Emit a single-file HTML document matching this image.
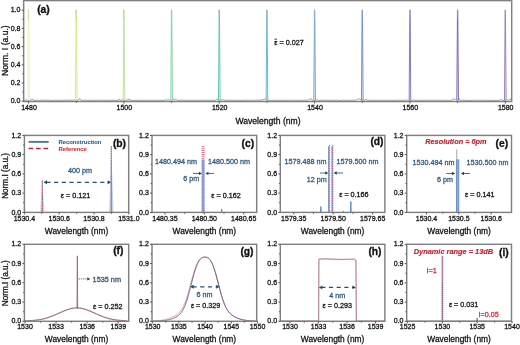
<!DOCTYPE html>
<html><head><meta charset="utf-8"><style>html,body{margin:0;padding:0;background:#fff;}svg{display:block;}</style></head>
<body>
<svg width="520" height="345" viewBox="0 0 520 345" font-family='"Liberation Sans", Arial, sans-serif'>
<rect width="520" height="345" fill="#ffffff"/>
<polyline points="24.15,100.39 25.15,100.34 26.15,99.77 27.15,100.17 28.15,100.38 29.15,100.39 30.15,100.11 31.15,100.17 32.15,98.92 33.15,100.16 34.15,100.20 35.15,100.45 36.15,100.20 37.15,100.26 38.15,100.36 39.15,100.46 40.15,100.16 41.15,100.30 42.15,100.21 43.15,100.15 44.15,100.21 45.15,100.14 46.15,100.33 47.15,100.18 48.15,100.31 49.15,100.13 50.15,100.15 51.15,100.44 52.15,100.42 53.15,100.39 54.15,100.12 55.15,100.31 56.15,100.24 57.15,100.36 58.15,100.29 59.15,100.33 60.15,100.34 61.15,100.26 62.15,100.26 63.15,100.14 64.15,100.22 65.15,100.13 66.15,100.16 67.15,100.11 68.15,100.23 69.15,100.41 70.15,100.16 71.15,100.12 72.15,100.26 73.15,100.40 74.15,99.72 75.15,100.16 76.15,100.11 77.15,100.44 78.15,100.18 79.15,98.91 80.15,98.86 81.15,100.46 82.15,100.35 83.15,100.12 84.15,100.29 85.15,100.11 86.15,100.36 87.15,100.44 88.15,100.25 89.15,100.46 90.15,100.40 91.15,100.32 92.15,100.25 93.15,100.42 94.15,100.46 95.15,100.16 96.15,100.36 97.15,100.12 98.15,100.15 99.15,100.33 100.15,100.30 101.15,100.28 102.15,100.24 103.15,100.26 104.15,100.27 105.15,100.25 106.15,100.13 107.15,100.29 108.15,100.32 109.15,100.21 110.15,100.39 111.15,100.36 112.15,100.12 113.15,100.28 114.15,100.27 115.15,100.47 116.15,100.32 117.15,100.26 118.15,100.46 119.15,98.93 120.15,100.30 121.15,100.34 122.15,99.67 123.15,100.23 124.15,100.12 125.15,100.38 126.15,100.31 127.15,99.47 128.15,100.34 129.15,98.85 130.15,100.46 131.15,100.26 132.15,100.20 133.15,100.36 134.15,100.39 135.15,100.18 136.15,100.39 137.15,100.40 138.15,100.31 139.15,100.22 140.15,100.43 141.15,100.35 142.15,100.35 143.15,100.17 144.15,100.31 145.15,100.16 146.15,100.41 147.15,100.35 148.15,100.24 149.15,100.15 150.15,100.31 151.15,100.39 152.15,100.43 153.15,100.28 154.15,100.40 155.15,100.18 156.15,100.17 157.15,100.41 158.15,100.37 159.15,100.18 160.15,100.24 161.15,100.18 162.15,100.35 163.15,100.42 164.15,100.37 165.15,100.18 166.15,99.35 167.15,100.32 168.15,99.68 169.15,100.13 170.15,100.11 171.15,100.31 172.15,100.13 173.15,98.66 174.15,100.17 175.15,99.36 176.15,99.13 177.15,100.37 178.15,100.46 179.15,100.14 180.15,100.22 181.15,100.14 182.15,100.15 183.15,100.14 184.15,100.26 185.15,100.47 186.15,100.20 187.15,100.41 188.15,100.36 189.15,100.23 190.15,100.28 191.15,100.32 192.15,100.13 193.15,100.25 194.15,100.35 195.15,100.38 196.15,100.16 197.15,100.30 198.15,100.19 199.15,100.34 200.15,100.40 201.15,100.28 202.15,100.17 203.15,100.41 204.15,100.18 205.15,100.14 206.15,100.18 207.15,100.17 208.15,100.47 209.15,100.24 210.15,100.16 211.15,100.45 212.15,100.37 213.15,100.37 214.15,100.28 215.15,100.30 216.15,99.84 217.15,98.64 218.15,100.16 219.15,100.44 220.15,100.29 221.15,99.42 222.15,100.24 223.15,99.44 224.15,100.43 225.15,99.65 226.15,100.41 227.15,100.34 228.15,100.25 229.15,100.19 230.15,100.33 231.15,100.18 232.15,100.25 233.15,100.31 234.15,100.34 235.15,100.29 236.15,100.22 237.15,100.32 238.15,100.22 239.15,100.30 240.15,100.38 241.15,100.28 242.15,100.22 243.15,100.45 244.15,100.32 245.15,100.32 246.15,100.15 247.15,100.13 248.15,100.34 249.15,100.15 250.15,100.18 251.15,100.38 252.15,100.30 253.15,100.43 254.15,100.18 255.15,100.23 256.15,100.15 257.15,100.18 258.15,100.23 259.15,100.20 260.15,100.27 261.15,100.43 262.15,98.96 263.15,99.87 264.15,99.66 265.15,98.56 266.15,100.23 267.15,100.17 268.15,100.13 269.15,100.26 270.15,100.46 271.15,100.29 272.15,100.43 273.15,100.13 274.15,100.45 275.15,100.35 276.15,100.27 277.15,100.17 278.15,100.38 279.15,100.41 280.15,100.38 281.15,100.25 282.15,100.20 283.15,100.33 284.15,100.34 285.15,100.33 286.15,100.34 287.15,100.32 288.15,100.44 289.15,100.29 290.15,100.12 291.15,100.32 292.15,100.20 293.15,100.41 294.15,100.22 295.15,100.20 296.15,100.23 297.15,100.28 298.15,100.30 299.15,100.24 300.15,100.15 301.15,100.42 302.15,100.44 303.15,100.20 304.15,100.14 305.15,100.28 306.15,100.31 307.15,100.21 308.15,100.40 309.15,99.12 310.15,98.96 311.15,98.71 312.15,100.32 313.15,100.26 314.15,100.37 315.15,100.39 316.15,100.46 317.15,99.39 318.15,100.35 319.15,100.42 320.15,100.30 321.15,100.30 322.15,100.17 323.15,100.17 324.15,100.27 325.15,100.30 326.15,100.21 327.15,100.16 328.15,100.33 329.15,100.20 330.15,100.12 331.15,100.30 332.15,100.39 333.15,100.39 334.15,100.21 335.15,100.23 336.15,100.12 337.15,100.16 338.15,100.38 339.15,100.40 340.15,100.38 341.15,100.40 342.15,100.22 343.15,100.16 344.15,100.14 345.15,100.38 346.15,100.16 347.15,100.36 348.15,100.32 349.15,100.21 350.15,100.44 351.15,100.44 352.15,100.17 353.15,100.37 354.15,100.34 355.15,100.26 356.15,100.23 357.15,99.42 358.15,99.04 359.15,98.93 360.15,99.07 361.15,100.43 362.15,100.15 363.15,100.14 364.15,100.44 365.15,100.34 366.15,98.82 367.15,100.23 368.15,100.38 369.15,100.12 370.15,100.23 371.15,100.28 372.15,100.43 373.15,100.29 374.15,100.34 375.15,100.21 376.15,100.23 377.15,100.27 378.15,100.41 379.15,100.24 380.15,100.24 381.15,100.41 382.15,100.15 383.15,100.23 384.15,100.43 385.15,100.13 386.15,100.42 387.15,100.35 388.15,100.21 389.15,100.25 390.15,100.27 391.15,100.24 392.15,100.31 393.15,100.36 394.15,100.41 395.15,100.45 396.15,100.21 397.15,100.20 398.15,100.27 399.15,100.20 400.15,100.34 401.15,100.38 402.15,100.33 403.15,100.15 404.15,100.46 405.15,100.38 406.15,99.34 407.15,100.27 408.15,100.34 409.15,100.43 410.15,100.37 411.15,100.44 412.15,100.43 413.15,99.49 414.15,100.32 415.15,100.18 416.15,100.26 417.15,100.42 418.15,100.33 419.15,100.40 420.15,100.28 421.15,100.27 422.15,100.40 423.15,100.38 424.15,100.19 425.15,100.46 426.15,100.18 427.15,100.15 428.15,100.13 429.15,100.33 430.15,100.27 431.15,100.26 432.15,100.24 433.15,100.12 434.15,100.22 435.15,100.36 436.15,100.16 437.15,100.30 438.15,100.25 439.15,100.21 440.15,100.47 441.15,100.19 442.15,100.23 443.15,100.29 444.15,100.28 445.15,100.30 446.15,100.40 447.15,100.28 448.15,100.46 449.15,100.29 450.15,100.24 451.15,100.31 452.15,100.27 453.15,98.61 454.15,99.30 455.15,99.20 456.15,100.13 457.15,100.35 458.15,100.16 459.15,98.59 460.15,100.25 461.15,100.21 462.15,100.35 463.15,100.13 464.15,100.31 465.15,100.20 466.15,100.30 467.15,100.43 468.15,100.46 469.15,100.44 470.15,100.40 471.15,100.41 472.15,100.29 473.15,100.22 474.15,100.28 475.15,100.32 476.15,100.24 477.15,100.36 478.15,100.30 479.15,100.20 480.15,100.33 481.15,100.41 482.15,100.14 483.15,100.21 484.15,100.34 485.15,100.34 486.15,100.28 487.15,100.25 488.15,100.39 489.15,100.47 490.15,100.40 491.15,100.19 492.15,100.42 493.15,100.30 494.15,100.40 495.15,100.40 496.15,100.41 497.15,100.33 498.15,100.41 499.15,100.46 500.15,99.31 501.15,99.38 502.15,100.32 503.15,100.45 504.15,100.33 505.15,100.46 506.15,100.12 507.15,99.29 508.15,100.41 509.15,99.82 510.15,98.68 511.15,100.30" fill="none" stroke="#8c8c8c" stroke-width="0.8" stroke-linejoin="round" />
<polyline points="27.80,100.29 28.45,10.20 28.75,10.20 29.40,100.29" fill="none" stroke="#f2f2b4" stroke-width="1.0" stroke-linejoin="round" />
<line x1="28.30" y1="8.84" x2="28.30" y2="19.30" stroke="#b8b8c0" stroke-width="0.5" />
<polyline points="75.47,100.29 76.12,10.20 76.42,10.20 77.07,100.29" fill="none" stroke="#dfe68a" stroke-width="1.0" stroke-linejoin="round" />
<line x1="75.97" y1="8.84" x2="75.97" y2="19.30" stroke="#b8b8c0" stroke-width="0.5" />
<polyline points="123.14,100.29 123.79,10.20 124.09,10.20 124.74,100.29" fill="none" stroke="#bfe2a4" stroke-width="1.0" stroke-linejoin="round" />
<line x1="123.64" y1="8.84" x2="123.64" y2="19.30" stroke="#b8b8c0" stroke-width="0.5" />
<polyline points="170.81,100.29 171.46,10.20 171.76,10.20 172.41,100.29" fill="none" stroke="#86d2ac" stroke-width="1.0" stroke-linejoin="round" />
<line x1="171.31" y1="8.84" x2="171.31" y2="19.30" stroke="#b8b8c0" stroke-width="0.5" />
<polyline points="218.48,100.29 219.13,10.20 219.43,10.20 220.08,100.29" fill="none" stroke="#6cc4b2" stroke-width="1.0" stroke-linejoin="round" />
<line x1="218.98" y1="8.84" x2="218.98" y2="19.30" stroke="#b8b8c0" stroke-width="0.5" />
<polyline points="266.15,100.29 266.80,10.20 267.10,10.20 267.75,100.29" fill="none" stroke="#6cbac6" stroke-width="1.0" stroke-linejoin="round" />
<line x1="266.65" y1="8.84" x2="266.65" y2="19.30" stroke="#b8b8c0" stroke-width="0.5" />
<polyline points="313.82,100.29 314.47,10.20 314.77,10.20 315.42,100.29" fill="none" stroke="#74a6cc" stroke-width="1.0" stroke-linejoin="round" />
<line x1="314.32" y1="8.84" x2="314.32" y2="19.30" stroke="#b8b8c0" stroke-width="0.5" />
<polyline points="361.49,100.29 362.14,10.20 362.44,10.20 363.09,100.29" fill="none" stroke="#7290c8" stroke-width="1.0" stroke-linejoin="round" />
<line x1="361.99" y1="8.84" x2="361.99" y2="19.30" stroke="#b8b8c0" stroke-width="0.5" />
<polyline points="409.16,100.29 409.81,10.20 410.11,10.20 410.76,100.29" fill="none" stroke="#7c7ec0" stroke-width="1.0" stroke-linejoin="round" />
<line x1="409.66" y1="8.84" x2="409.66" y2="19.30" stroke="#b8b8c0" stroke-width="0.5" />
<polyline points="456.83,100.29 457.48,10.20 457.78,10.20 458.43,100.29" fill="none" stroke="#7e66b0" stroke-width="1.0" stroke-linejoin="round" />
<line x1="457.33" y1="8.84" x2="457.33" y2="19.30" stroke="#b8b8c0" stroke-width="0.5" />
<polyline points="504.50,100.29 505.15,10.20 505.45,10.20 506.10,100.29" fill="none" stroke="#9a82b8" stroke-width="1.0" stroke-linejoin="round" />
<line x1="505.00" y1="8.84" x2="505.00" y2="19.30" stroke="#b8b8c0" stroke-width="0.5" />
<rect x="23.65" y="0.60" width="488.05" height="100.90" fill="none" stroke="#808080" stroke-width="1.45"/>
<line x1="22.25" y1="92.10" x2="23.65" y2="92.10" stroke="#555" stroke-width="0.9" />
<line x1="22.25" y1="73.90" x2="23.65" y2="73.90" stroke="#555" stroke-width="0.9" />
<line x1="22.25" y1="55.70" x2="23.65" y2="55.70" stroke="#555" stroke-width="0.9" />
<line x1="22.25" y1="37.50" x2="23.65" y2="37.50" stroke="#555" stroke-width="0.9" />
<line x1="22.25" y1="19.30" x2="23.65" y2="19.30" stroke="#555" stroke-width="0.9" />
<line x1="21.65" y1="101.20" x2="23.65" y2="101.20" stroke="#555" stroke-width="1" />
<text x="20.45" y="103.30" font-size="7" text-anchor="end" fill="#111111" stroke="#111111" stroke-width="0.28" font-weight="normal" font-style="normal" >0.0</text>
<line x1="21.65" y1="83.00" x2="23.65" y2="83.00" stroke="#555" stroke-width="1" />
<text x="20.45" y="85.10" font-size="7" text-anchor="end" fill="#111111" stroke="#111111" stroke-width="0.28" font-weight="normal" font-style="normal" >0.2</text>
<line x1="21.65" y1="64.80" x2="23.65" y2="64.80" stroke="#555" stroke-width="1" />
<text x="20.45" y="66.90" font-size="7" text-anchor="end" fill="#111111" stroke="#111111" stroke-width="0.28" font-weight="normal" font-style="normal" >0.4</text>
<line x1="21.65" y1="46.60" x2="23.65" y2="46.60" stroke="#555" stroke-width="1" />
<text x="20.45" y="48.70" font-size="7" text-anchor="end" fill="#111111" stroke="#111111" stroke-width="0.28" font-weight="normal" font-style="normal" >0.6</text>
<line x1="21.65" y1="28.40" x2="23.65" y2="28.40" stroke="#555" stroke-width="1" />
<text x="20.45" y="30.50" font-size="7" text-anchor="end" fill="#111111" stroke="#111111" stroke-width="0.28" font-weight="normal" font-style="normal" >0.8</text>
<line x1="21.65" y1="10.20" x2="23.65" y2="10.20" stroke="#555" stroke-width="1" />
<text x="20.45" y="12.30" font-size="7" text-anchor="end" fill="#111111" stroke="#111111" stroke-width="0.28" font-weight="normal" font-style="normal" >1.0</text>
<line x1="28.60" y1="101.50" x2="28.60" y2="103.50" stroke="#555" stroke-width="1" />
<text x="29.00" y="110.20" font-size="7" text-anchor="middle" fill="#111111" stroke="#111111" stroke-width="0.28" font-weight="normal" font-style="normal" >1480</text>
<line x1="123.94" y1="101.50" x2="123.94" y2="103.50" stroke="#555" stroke-width="1" />
<text x="124.34" y="110.20" font-size="7" text-anchor="middle" fill="#111111" stroke="#111111" stroke-width="0.28" font-weight="normal" font-style="normal" >1500</text>
<line x1="219.28" y1="101.50" x2="219.28" y2="103.50" stroke="#555" stroke-width="1" />
<text x="219.68" y="110.20" font-size="7" text-anchor="middle" fill="#111111" stroke="#111111" stroke-width="0.28" font-weight="normal" font-style="normal" >1520</text>
<line x1="314.62" y1="101.50" x2="314.62" y2="103.50" stroke="#555" stroke-width="1" />
<text x="315.02" y="110.20" font-size="7" text-anchor="middle" fill="#111111" stroke="#111111" stroke-width="0.28" font-weight="normal" font-style="normal" >1540</text>
<line x1="409.96" y1="101.50" x2="409.96" y2="103.50" stroke="#555" stroke-width="1" />
<text x="410.36" y="110.20" font-size="7" text-anchor="middle" fill="#111111" stroke="#111111" stroke-width="0.28" font-weight="normal" font-style="normal" >1560</text>
<line x1="505.30" y1="101.50" x2="505.30" y2="103.50" stroke="#555" stroke-width="1" />
<text x="505.70" y="110.20" font-size="7" text-anchor="middle" fill="#111111" stroke="#111111" stroke-width="0.28" font-weight="normal" font-style="normal" >1580</text>
<line x1="76.27" y1="101.50" x2="76.27" y2="102.90" stroke="#555" stroke-width="0.9" />
<line x1="171.61" y1="101.50" x2="171.61" y2="102.90" stroke="#555" stroke-width="0.9" />
<line x1="266.95" y1="101.50" x2="266.95" y2="102.90" stroke="#555" stroke-width="0.9" />
<line x1="362.29" y1="101.50" x2="362.29" y2="102.90" stroke="#555" stroke-width="0.9" />
<line x1="457.63" y1="101.50" x2="457.63" y2="102.90" stroke="#555" stroke-width="0.9" />
<text x="268.00" y="123.50" font-size="8.6" text-anchor="middle" fill="#111111" stroke="#111111" stroke-width="0.28" font-weight="normal" font-style="normal" >Wavelength (nm)</text>
<text transform="translate(7.6,50.6) rotate(-90)" font-size="8.6" text-anchor="middle" fill="#111111" stroke="#111111" stroke-width="0.28">Norm. I (a.u.)</text>
<text x="37.20" y="12.50" font-size="10.3" text-anchor="start" fill="#111111" stroke="#111111" stroke-width="0.3" font-weight="bold" font-style="normal" >(a)</text>
<text x="274.30" y="44.80" font-size="7.2" text-anchor="start" fill="#111111" stroke="#111111" stroke-width="0.28" font-weight="normal" font-style="normal" >ε = 0.027</text>
<line x1="274.40" y1="39.20" x2="277.00" y2="39.20" stroke="#111111" stroke-width="0.8" />
<polygon points="40.10,212.40 42.30,180.32 44.50,212.40" fill="#c4d4ec"/>
<line x1="42.30" y1="180.32" x2="42.30" y2="212.40" stroke="#7a88b0" stroke-width="0.7" />
<line x1="42.30" y1="180.32" x2="42.30" y2="212.40" stroke="#d03a4a" stroke-width="0.8" stroke-dasharray="1.3 1"/>
<polygon points="109.10,212.40 111.30,146.31 113.50,212.40" fill="#c4d4ec"/>
<line x1="111.30" y1="146.31" x2="111.30" y2="212.40" stroke="#7a88b0" stroke-width="0.7" />
<line x1="111.30" y1="146.31" x2="111.30" y2="212.40" stroke="#d03a4a" stroke-width="0.8" stroke-dasharray="1.3 1"/>
<rect x="24.40" y="135.40" width="104.30" height="77.00" fill="none" stroke="#808080" stroke-width="1.45"/>
<line x1="23.00" y1="202.78" x2="24.40" y2="202.78" stroke="#555" stroke-width="0.9" />
<line x1="23.00" y1="183.53" x2="24.40" y2="183.53" stroke="#555" stroke-width="0.9" />
<line x1="23.00" y1="164.28" x2="24.40" y2="164.28" stroke="#555" stroke-width="0.9" />
<line x1="23.00" y1="145.02" x2="24.40" y2="145.02" stroke="#555" stroke-width="0.9" />
<line x1="22.40" y1="212.40" x2="24.40" y2="212.40" stroke="#555" stroke-width="1" />
<text x="21.20" y="214.50" font-size="7" text-anchor="end" fill="#111111" stroke="#111111" stroke-width="0.28" font-weight="normal" font-style="normal" >0.0</text>
<line x1="22.40" y1="193.15" x2="24.40" y2="193.15" stroke="#555" stroke-width="1" />
<text x="21.20" y="195.25" font-size="7" text-anchor="end" fill="#111111" stroke="#111111" stroke-width="0.28" font-weight="normal" font-style="normal" >0.3</text>
<line x1="22.40" y1="173.90" x2="24.40" y2="173.90" stroke="#555" stroke-width="1" />
<text x="21.20" y="176.00" font-size="7" text-anchor="end" fill="#111111" stroke="#111111" stroke-width="0.28" font-weight="normal" font-style="normal" >0.6</text>
<line x1="22.40" y1="154.65" x2="24.40" y2="154.65" stroke="#555" stroke-width="1" />
<text x="21.20" y="156.75" font-size="7" text-anchor="end" fill="#111111" stroke="#111111" stroke-width="0.28" font-weight="normal" font-style="normal" >0.9</text>
<line x1="22.40" y1="135.40" x2="24.40" y2="135.40" stroke="#555" stroke-width="1" />
<text x="21.20" y="137.50" font-size="7" text-anchor="end" fill="#111111" stroke="#111111" stroke-width="0.28" font-weight="normal" font-style="normal" >1.2</text>
<line x1="41.82" y1="212.40" x2="41.82" y2="213.80" stroke="#555" stroke-width="0.9" />
<line x1="76.65" y1="212.40" x2="76.65" y2="213.80" stroke="#555" stroke-width="0.9" />
<line x1="111.48" y1="212.40" x2="111.48" y2="213.80" stroke="#555" stroke-width="0.9" />
<line x1="24.40" y1="212.40" x2="24.40" y2="214.40" stroke="#555" stroke-width="1" />
<text x="24.40" y="221.00" font-size="7" text-anchor="middle" fill="#111111" stroke="#111111" stroke-width="0.28" font-weight="normal" font-style="normal" >1530.4</text>
<line x1="59.23" y1="212.40" x2="59.23" y2="214.40" stroke="#555" stroke-width="1" />
<text x="59.23" y="221.00" font-size="7" text-anchor="middle" fill="#111111" stroke="#111111" stroke-width="0.28" font-weight="normal" font-style="normal" >1530.6</text>
<line x1="94.07" y1="212.40" x2="94.07" y2="214.40" stroke="#555" stroke-width="1" />
<text x="94.07" y="221.00" font-size="7" text-anchor="middle" fill="#111111" stroke="#111111" stroke-width="0.28" font-weight="normal" font-style="normal" >1530.8</text>
<line x1="128.90" y1="212.40" x2="128.90" y2="214.40" stroke="#555" stroke-width="1" />
<text x="128.90" y="221.00" font-size="7" text-anchor="middle" fill="#111111" stroke="#111111" stroke-width="0.28" font-weight="normal" font-style="normal" >1531.0</text>
<text x="76.55" y="234.10" font-size="8.4" text-anchor="middle" fill="#111111" stroke="#111111" stroke-width="0.28" font-weight="normal" font-style="normal" >Wavelength (nm)</text>
<text x="112.90" y="146.50" font-size="10.3" text-anchor="start" fill="#111111" stroke="#111111" stroke-width="0.3" font-weight="bold" font-style="normal" >(b)</text>
<text transform="translate(7.5,175.9) rotate(-90)" font-size="8.2" text-anchor="middle" fill="#111111" stroke="#111111" stroke-width="0.28">Norm.I (a.u.)</text>
<line x1="28.60" y1="141.90" x2="48.70" y2="141.90" stroke="#557888" stroke-width="1.9" />
<line x1="28.60" y1="148.50" x2="48.70" y2="148.50" stroke="#b02838" stroke-width="1.3" stroke-dasharray="4.6 2.9"/>
<text x="58.50" y="144.00" font-size="5.85" text-anchor="start" fill="#2f5f82" stroke="#2f5f82" stroke-width="0.1" font-weight="bold" font-style="normal" >Reconstruction</text>
<text x="58.50" y="151.00" font-size="5.85" text-anchor="start" fill="#c8313d" stroke="#c8313d" stroke-width="0.1" font-weight="bold" font-style="normal" >Reference</text>
<line x1="46.30" y1="182.30" x2="108.50" y2="182.30" stroke="#2a5070" stroke-width="1.3" stroke-dasharray="4.2 3.5"/>
<polygon points="43.60,182.30 46.98,180.35 46.98,184.25" fill="#244660"/>
<polygon points="111.00,182.30 107.62,180.35 107.62,184.25" fill="#244660"/>
<text x="79.90" y="172.90" font-size="7.2" text-anchor="middle" fill="#33597a" stroke="#33597a" stroke-width="0.28" font-weight="normal" font-style="normal" >400 pm</text>
<text x="60.80" y="198.20" font-size="7.2" text-anchor="start" fill="#111111" stroke="#111111" stroke-width="0.28" font-weight="normal" font-style="normal" >ε = 0.121</text>
<rect x="201.50" y="159.78" width="3.2" height="52.62" fill="#9cb2e2"/>
<line x1="203.10" y1="146.31" x2="203.10" y2="159.78" stroke="#dc7886" stroke-width="3.0" stroke-dasharray="1 0.9"/>
<line x1="203.10" y1="159.78" x2="203.10" y2="212.40" stroke="#9a6a9a" stroke-width="2.4" stroke-dasharray="1 1" stroke-opacity="0.3"/>
<line x1="203.10" y1="159.78" x2="203.10" y2="212.40" stroke="#4a62b0" stroke-width="0.7" stroke-dasharray="1 1"/>
<polyline points="221.33,212.40 221.63,209.19 221.93,212.40" fill="none" stroke="#5f86c4" stroke-width="1.0" stroke-linejoin="round" />
<rect x="152.00" y="135.40" width="104.70" height="77.00" fill="none" stroke="#808080" stroke-width="1.45"/>
<line x1="150.60" y1="202.78" x2="152.00" y2="202.78" stroke="#555" stroke-width="0.9" />
<line x1="150.60" y1="183.53" x2="152.00" y2="183.53" stroke="#555" stroke-width="0.9" />
<line x1="150.60" y1="164.28" x2="152.00" y2="164.28" stroke="#555" stroke-width="0.9" />
<line x1="150.60" y1="145.02" x2="152.00" y2="145.02" stroke="#555" stroke-width="0.9" />
<line x1="150.00" y1="212.40" x2="152.00" y2="212.40" stroke="#555" stroke-width="1" />
<text x="148.80" y="214.50" font-size="7" text-anchor="end" fill="#111111" stroke="#111111" stroke-width="0.28" font-weight="normal" font-style="normal" >0.0</text>
<line x1="150.00" y1="193.15" x2="152.00" y2="193.15" stroke="#555" stroke-width="1" />
<text x="148.80" y="195.25" font-size="7" text-anchor="end" fill="#111111" stroke="#111111" stroke-width="0.28" font-weight="normal" font-style="normal" >0.3</text>
<line x1="150.00" y1="173.90" x2="152.00" y2="173.90" stroke="#555" stroke-width="1" />
<text x="148.80" y="176.00" font-size="7" text-anchor="end" fill="#111111" stroke="#111111" stroke-width="0.28" font-weight="normal" font-style="normal" >0.6</text>
<line x1="150.00" y1="154.65" x2="152.00" y2="154.65" stroke="#555" stroke-width="1" />
<text x="148.80" y="156.75" font-size="7" text-anchor="end" fill="#111111" stroke="#111111" stroke-width="0.28" font-weight="normal" font-style="normal" >0.9</text>
<line x1="150.00" y1="135.40" x2="152.00" y2="135.40" stroke="#555" stroke-width="1" />
<text x="148.80" y="137.50" font-size="7" text-anchor="end" fill="#111111" stroke="#111111" stroke-width="0.28" font-weight="normal" font-style="normal" >1.2</text>
<line x1="184.61" y1="212.40" x2="184.61" y2="213.80" stroke="#555" stroke-width="0.9" />
<line x1="223.99" y1="212.40" x2="223.99" y2="213.80" stroke="#555" stroke-width="0.9" />
<line x1="164.92" y1="212.40" x2="164.92" y2="214.40" stroke="#555" stroke-width="1" />
<text x="164.92" y="221.00" font-size="7" text-anchor="middle" fill="#111111" stroke="#111111" stroke-width="0.28" font-weight="normal" font-style="normal" >1480.35</text>
<line x1="204.30" y1="212.40" x2="204.30" y2="214.40" stroke="#555" stroke-width="1" />
<text x="204.30" y="221.00" font-size="7" text-anchor="middle" fill="#111111" stroke="#111111" stroke-width="0.28" font-weight="normal" font-style="normal" >1480.50</text>
<line x1="243.68" y1="212.40" x2="243.68" y2="214.40" stroke="#555" stroke-width="1" />
<text x="243.68" y="221.00" font-size="7" text-anchor="middle" fill="#111111" stroke="#111111" stroke-width="0.28" font-weight="normal" font-style="normal" >1480.65</text>
<text x="204.35" y="234.10" font-size="8.4" text-anchor="middle" fill="#111111" stroke="#111111" stroke-width="0.28" font-weight="normal" font-style="normal" >Wavelength (nm)</text>
<text x="241.50" y="146.50" font-size="10.3" text-anchor="start" fill="#111111" stroke="#111111" stroke-width="0.3" font-weight="bold" font-style="normal" >(c)</text>
<text x="176.00" y="164.40" font-size="7.2" text-anchor="middle" fill="#33597a" stroke="#33597a" stroke-width="0.28" font-weight="normal" font-style="normal" >1480.494 nm</text>
<text x="229.10" y="164.40" font-size="7.2" text-anchor="middle" fill="#33597a" stroke="#33597a" stroke-width="0.28" font-weight="normal" font-style="normal" >1480.500 nm</text>
<line x1="193.00" y1="173.40" x2="199.50" y2="173.40" stroke="#2a4256" stroke-width="0.8" />
<polygon points="201.80,173.40 198.94,171.75 198.94,175.05" fill="#24384a"/>
<line x1="207.80" y1="173.40" x2="214.00" y2="173.40" stroke="#2a4256" stroke-width="0.8" />
<polygon points="205.50,173.40 208.36,171.75 208.36,175.05" fill="#24384a"/>
<text x="191.30" y="180.90" font-size="7.2" text-anchor="middle" fill="#33597a" stroke="#33597a" stroke-width="0.28" font-weight="normal" font-style="normal" >6 pm</text>
<text x="211.30" y="197.60" font-size="7.2" text-anchor="start" fill="#111111" stroke="#111111" stroke-width="0.28" font-weight="normal" font-style="normal" >ε = 0.162</text>
<line x1="328.80" y1="146.31" x2="328.80" y2="212.40" stroke="#3a5aa8" stroke-width="0.9" />
<line x1="329.60" y1="145.02" x2="329.60" y2="212.40" stroke="#d04858" stroke-width="0.9" stroke-dasharray="1.3 1"/>
<line x1="332.10" y1="146.31" x2="332.10" y2="212.40" stroke="#3a5aa8" stroke-width="0.9" />
<line x1="332.90" y1="145.02" x2="332.90" y2="212.40" stroke="#d04858" stroke-width="0.9" stroke-dasharray="1.3 1"/>
<polyline points="320.54,212.40 320.84,206.62 321.14,212.40" fill="none" stroke="#5f86c4" stroke-width="1.0" stroke-linejoin="round" />
<polyline points="343.16,212.40 343.46,211.12 343.76,212.40" fill="none" stroke="#5f86c4" stroke-width="1.0" stroke-linejoin="round" />
<polyline points="350.52,212.40 350.82,201.49 351.12,212.40" fill="none" stroke="#5f86c4" stroke-width="1.0" stroke-linejoin="round" />
<rect x="280.30" y="135.40" width="104.60" height="77.00" fill="none" stroke="#808080" stroke-width="1.45"/>
<line x1="278.90" y1="202.78" x2="280.30" y2="202.78" stroke="#555" stroke-width="0.9" />
<line x1="278.90" y1="183.53" x2="280.30" y2="183.53" stroke="#555" stroke-width="0.9" />
<line x1="278.90" y1="164.28" x2="280.30" y2="164.28" stroke="#555" stroke-width="0.9" />
<line x1="278.90" y1="145.02" x2="280.30" y2="145.02" stroke="#555" stroke-width="0.9" />
<line x1="278.30" y1="212.40" x2="280.30" y2="212.40" stroke="#555" stroke-width="1" />
<text x="277.10" y="214.50" font-size="7" text-anchor="end" fill="#111111" stroke="#111111" stroke-width="0.28" font-weight="normal" font-style="normal" >0.0</text>
<line x1="278.30" y1="193.15" x2="280.30" y2="193.15" stroke="#555" stroke-width="1" />
<text x="277.10" y="195.25" font-size="7" text-anchor="end" fill="#111111" stroke="#111111" stroke-width="0.28" font-weight="normal" font-style="normal" >0.3</text>
<line x1="278.30" y1="173.90" x2="280.30" y2="173.90" stroke="#555" stroke-width="1" />
<text x="277.10" y="176.00" font-size="7" text-anchor="end" fill="#111111" stroke="#111111" stroke-width="0.28" font-weight="normal" font-style="normal" >0.6</text>
<line x1="278.30" y1="154.65" x2="280.30" y2="154.65" stroke="#555" stroke-width="1" />
<text x="277.10" y="156.75" font-size="7" text-anchor="end" fill="#111111" stroke="#111111" stroke-width="0.28" font-weight="normal" font-style="normal" >0.9</text>
<line x1="278.30" y1="135.40" x2="280.30" y2="135.40" stroke="#555" stroke-width="1" />
<text x="277.10" y="137.50" font-size="7" text-anchor="end" fill="#111111" stroke="#111111" stroke-width="0.28" font-weight="normal" font-style="normal" >1.2</text>
<line x1="313.47" y1="212.40" x2="313.47" y2="213.80" stroke="#555" stroke-width="0.9" />
<line x1="352.93" y1="212.40" x2="352.93" y2="213.80" stroke="#555" stroke-width="0.9" />
<line x1="293.75" y1="212.40" x2="293.75" y2="214.40" stroke="#555" stroke-width="1" />
<text x="293.75" y="221.00" font-size="7" text-anchor="middle" fill="#111111" stroke="#111111" stroke-width="0.28" font-weight="normal" font-style="normal" >1579.35</text>
<line x1="333.20" y1="212.40" x2="333.20" y2="214.40" stroke="#555" stroke-width="1" />
<text x="333.20" y="221.00" font-size="7" text-anchor="middle" fill="#111111" stroke="#111111" stroke-width="0.28" font-weight="normal" font-style="normal" >1579.50</text>
<line x1="372.65" y1="212.40" x2="372.65" y2="214.40" stroke="#555" stroke-width="1" />
<text x="372.65" y="221.00" font-size="7" text-anchor="middle" fill="#111111" stroke="#111111" stroke-width="0.28" font-weight="normal" font-style="normal" >1579.65</text>
<text x="332.60" y="234.10" font-size="8.4" text-anchor="middle" fill="#111111" stroke="#111111" stroke-width="0.28" font-weight="normal" font-style="normal" >Wavelength (nm)</text>
<text x="370.40" y="145.40" font-size="10.3" text-anchor="start" fill="#111111" stroke="#111111" stroke-width="0.3" font-weight="bold" font-style="normal" >(d)</text>
<text x="305.60" y="163.80" font-size="7.2" text-anchor="middle" fill="#33597a" stroke="#33597a" stroke-width="0.28" font-weight="normal" font-style="normal" >1579.488 nm</text>
<text x="357.50" y="163.80" font-size="7.2" text-anchor="middle" fill="#33597a" stroke="#33597a" stroke-width="0.28" font-weight="normal" font-style="normal" >1579.500 nm</text>
<line x1="320.00" y1="173.00" x2="325.80" y2="173.00" stroke="#2a4256" stroke-width="0.8" />
<polygon points="328.20,173.00 325.34,171.35 325.34,174.65" fill="#24384a"/>
<line x1="336.20" y1="173.00" x2="343.00" y2="173.00" stroke="#2a4256" stroke-width="0.8" />
<polygon points="333.80,173.00 336.66,171.35 336.66,174.65" fill="#24384a"/>
<text x="316.80" y="182.00" font-size="7.2" text-anchor="middle" fill="#33597a" stroke="#33597a" stroke-width="0.28" font-weight="normal" font-style="normal" >12 pm</text>
<text x="339.20" y="196.80" font-size="7.2" text-anchor="start" fill="#111111" stroke="#111111" stroke-width="0.28" font-weight="normal" font-style="normal" >ε = 0.166</text>
<rect x="455.9" y="159.5" width="3.4" height="52.90" fill="#a3c0e6"/>
<line x1="456.80" y1="149.50" x2="456.80" y2="212.40" stroke="#7a8cb0" stroke-width="0.8" />
<line x1="456.80" y1="159.50" x2="456.80" y2="212.40" stroke="#4d74b0" stroke-width="0.8" stroke-dasharray="1.2 0.8"/>
<line x1="458.60" y1="159.50" x2="458.60" y2="212.40" stroke="#5a86c8" stroke-width="0.7" />
<rect x="406.70" y="135.40" width="104.80" height="77.00" fill="none" stroke="#808080" stroke-width="1.45"/>
<line x1="405.30" y1="202.78" x2="406.70" y2="202.78" stroke="#555" stroke-width="0.9" />
<line x1="405.30" y1="183.53" x2="406.70" y2="183.53" stroke="#555" stroke-width="0.9" />
<line x1="405.30" y1="164.28" x2="406.70" y2="164.28" stroke="#555" stroke-width="0.9" />
<line x1="405.30" y1="145.02" x2="406.70" y2="145.02" stroke="#555" stroke-width="0.9" />
<line x1="404.70" y1="212.40" x2="406.70" y2="212.40" stroke="#555" stroke-width="1" />
<text x="403.50" y="214.50" font-size="7" text-anchor="end" fill="#111111" stroke="#111111" stroke-width="0.28" font-weight="normal" font-style="normal" >0.0</text>
<line x1="404.70" y1="193.15" x2="406.70" y2="193.15" stroke="#555" stroke-width="1" />
<text x="403.50" y="195.25" font-size="7" text-anchor="end" fill="#111111" stroke="#111111" stroke-width="0.28" font-weight="normal" font-style="normal" >0.3</text>
<line x1="404.70" y1="173.90" x2="406.70" y2="173.90" stroke="#555" stroke-width="1" />
<text x="403.50" y="176.00" font-size="7" text-anchor="end" fill="#111111" stroke="#111111" stroke-width="0.28" font-weight="normal" font-style="normal" >0.6</text>
<line x1="404.70" y1="154.65" x2="406.70" y2="154.65" stroke="#555" stroke-width="1" />
<text x="403.50" y="156.75" font-size="7" text-anchor="end" fill="#111111" stroke="#111111" stroke-width="0.28" font-weight="normal" font-style="normal" >0.9</text>
<line x1="404.70" y1="135.40" x2="406.70" y2="135.40" stroke="#555" stroke-width="1" />
<text x="403.50" y="137.50" font-size="7" text-anchor="end" fill="#111111" stroke="#111111" stroke-width="0.28" font-weight="normal" font-style="normal" >1.2</text>
<line x1="442.68" y1="212.40" x2="442.68" y2="213.80" stroke="#555" stroke-width="0.9" />
<line x1="475.02" y1="212.40" x2="475.02" y2="213.80" stroke="#555" stroke-width="0.9" />
<line x1="426.50" y1="212.40" x2="426.50" y2="214.40" stroke="#555" stroke-width="1" />
<text x="426.50" y="221.00" font-size="7" text-anchor="middle" fill="#111111" stroke="#111111" stroke-width="0.28" font-weight="normal" font-style="normal" >1530.4</text>
<line x1="458.85" y1="212.40" x2="458.85" y2="214.40" stroke="#555" stroke-width="1" />
<text x="458.85" y="221.00" font-size="7" text-anchor="middle" fill="#111111" stroke="#111111" stroke-width="0.28" font-weight="normal" font-style="normal" >1530.5</text>
<line x1="491.20" y1="212.40" x2="491.20" y2="214.40" stroke="#555" stroke-width="1" />
<text x="491.20" y="221.00" font-size="7" text-anchor="middle" fill="#111111" stroke="#111111" stroke-width="0.28" font-weight="normal" font-style="normal" >1530.6</text>
<text x="459.10" y="234.10" font-size="8.4" text-anchor="middle" fill="#111111" stroke="#111111" stroke-width="0.28" font-weight="normal" font-style="normal" >Wavelength (nm)</text>
<text x="495.50" y="146.80" font-size="10.3" text-anchor="start" fill="#111111" stroke="#111111" stroke-width="0.3" font-weight="bold" font-style="normal" >(e)</text>
<text x="425.20" y="143.90" font-size="7.35" text-anchor="start" fill="#b82533" stroke="#b82533" stroke-width="0.15" font-weight="bold" font-style="italic" >Resolution = 6pm</text>
<text x="433.50" y="164.80" font-size="7.2" text-anchor="middle" fill="#33597a" stroke="#33597a" stroke-width="0.28" font-weight="normal" font-style="normal" >1530.494 nm</text>
<text x="487.40" y="164.90" font-size="7.2" text-anchor="middle" fill="#33597a" stroke="#33597a" stroke-width="0.28" font-weight="normal" font-style="normal" >1530.500 nm</text>
<line x1="446.20" y1="173.50" x2="452.80" y2="173.50" stroke="#2a4256" stroke-width="0.8" />
<polygon points="455.00,173.50 452.14,171.85 452.14,175.15" fill="#24384a"/>
<line x1="463.30" y1="173.50" x2="470.00" y2="173.50" stroke="#2a4256" stroke-width="0.8" />
<polygon points="461.00,173.50 463.86,171.85 463.86,175.15" fill="#24384a"/>
<text x="445.00" y="181.80" font-size="7.2" text-anchor="middle" fill="#33597a" stroke="#33597a" stroke-width="0.28" font-weight="normal" font-style="normal" >6 pm</text>
<text x="465.10" y="197.40" font-size="7.2" text-anchor="start" fill="#111111" stroke="#111111" stroke-width="0.28" font-weight="normal" font-style="normal" >ε = 0.141</text>
<polyline points="23.96,320.90 24.22,320.89 24.48,320.88 24.74,320.88 24.99,320.87 25.25,320.86 25.51,320.85 25.77,320.85 26.03,320.84 26.28,320.83 26.54,320.82 26.80,320.81 27.06,320.80 27.32,320.79 27.57,320.78 27.83,320.77 28.09,320.76 28.35,320.74 28.61,320.73 28.86,320.72 29.12,320.71 29.38,320.69 29.64,320.68 29.89,320.66 30.15,320.65 30.41,320.63 30.67,320.62 30.93,320.60 31.18,320.58 31.44,320.57 31.70,320.55 31.96,320.53 32.22,320.51 32.47,320.49 32.73,320.47 32.99,320.45 33.25,320.43 33.50,320.40 33.76,320.38 34.02,320.36 34.28,320.33 34.54,320.31 34.79,320.28 35.05,320.25 35.31,320.22 35.57,320.20 35.83,320.17 36.08,320.14 36.34,320.10 36.60,320.07 36.86,320.04 37.11,320.01 37.37,319.97 37.63,319.94 37.89,319.90 38.15,319.86 38.40,319.82 38.66,319.78 38.92,319.74 39.18,319.70 39.44,319.66 39.69,319.62 39.95,319.57 40.21,319.53 40.47,319.48 40.72,319.43 40.98,319.38 41.24,319.33 41.50,319.28 41.76,319.23 42.01,319.18 42.27,319.12 42.53,319.06 42.79,319.01 43.05,318.95 43.30,318.89 43.56,318.83 43.82,318.77 44.08,318.71 44.34,318.64 44.59,318.58 44.85,318.51 45.11,318.44 45.37,318.37 45.62,318.30 45.88,318.23 46.14,318.16 46.40,318.08 46.66,318.01 46.91,317.93 47.17,317.85 47.43,317.77 47.69,317.69 47.95,317.61 48.20,317.53 48.46,317.44 48.72,317.36 48.98,317.27 49.23,317.18 49.49,317.09 49.75,317.00 50.01,316.91 50.27,316.82 50.52,316.73 50.78,316.63 51.04,316.54 51.30,316.44 51.56,316.34 51.81,316.24 52.07,316.14 52.33,316.04 52.59,315.94 52.84,315.83 53.10,315.73 53.36,315.63 53.62,315.52 53.88,315.41 54.13,315.30 54.39,315.20 54.65,315.09 54.91,314.98 55.17,314.87 55.42,314.75 55.68,314.64 55.94,314.53 56.20,314.42 56.46,314.30 56.71,314.19 56.97,314.07 57.23,313.96 57.49,313.84 57.74,313.73 58.00,313.61 58.26,313.49 58.52,313.38 58.78,313.26 59.03,313.14 59.29,313.03 59.55,312.91 59.81,312.79 60.07,312.68 60.32,312.56 60.58,312.45 60.84,312.33 61.10,312.21 61.35,312.10 61.61,311.98 61.87,311.87 62.13,311.76 62.39,311.64 62.64,311.53 62.90,311.42 63.16,311.31 63.42,311.20 63.68,311.09 63.93,310.98 64.19,310.87 64.45,310.77 64.71,310.66 64.96,310.56 65.22,310.46 65.48,310.35 65.74,310.25 66.00,310.16 66.25,310.06 66.51,309.96 66.77,309.87 67.03,309.78 67.29,309.68 67.54,309.60 67.80,309.51 68.06,309.42 68.32,309.34 68.57,309.26 68.83,309.18 69.09,309.10 69.35,309.02 69.61,308.95 69.86,308.88 70.12,308.81 70.38,308.74 70.64,308.68 70.90,308.61 71.15,308.55 71.41,308.50 71.67,308.44 71.93,308.39 72.19,308.34 72.44,308.29 72.70,308.25 72.96,308.20 73.22,308.16 73.47,308.13 73.73,308.09 73.99,308.06 74.25,308.03 74.51,308.00 74.76,307.98 75.02,307.96 75.28,307.94 75.54,307.92 75.80,307.91 76.05,307.90 76.31,307.89 76.57,307.89 76.83,307.89 77.08,307.89 77.34,307.89 77.60,307.90 77.86,307.91 78.12,307.92 78.37,307.94 78.63,307.96 78.89,307.98 79.15,308.00 79.41,308.03 79.66,308.06 79.92,308.09 80.18,308.12 80.44,308.16 80.69,308.20 80.95,308.24 81.21,308.29 81.47,308.34 81.73,308.39 81.98,308.44 82.24,308.49 82.50,308.55 82.76,308.61 83.02,308.67 83.27,308.74 83.53,308.81 83.79,308.87 84.05,308.95 84.31,309.02 84.56,309.10 84.82,309.17 85.08,309.25 85.34,309.33 85.59,309.42 85.85,309.50 86.11,309.59 86.37,309.68 86.63,309.77 86.88,309.86 87.14,309.96 87.40,310.05 87.66,310.15 87.92,310.25 88.17,310.35 88.43,310.45 88.69,310.55 88.95,310.66 89.20,310.76 89.46,310.87 89.72,310.98 89.98,311.08 90.24,311.19 90.49,311.30 90.75,311.41 91.01,311.53 91.27,311.64 91.53,311.75 91.78,311.86 92.04,311.98 92.30,312.09 92.56,312.21 92.81,312.32 93.07,312.44 93.33,312.56 93.59,312.67 93.85,312.79 94.10,312.91 94.36,313.02 94.62,313.14 94.88,313.26 95.14,313.37 95.39,313.49 95.65,313.61 95.91,313.72 96.17,313.84 96.43,313.95 96.68,314.07 96.94,314.18 97.20,314.30 97.46,314.41 97.71,314.52 97.97,314.64 98.23,314.75 98.49,314.86 98.75,314.97 99.00,315.08 99.26,315.19 99.52,315.30 99.78,315.41 100.04,315.51 100.29,315.62 100.55,315.73 100.81,315.83 101.07,315.93 101.32,316.04 101.58,316.14 101.84,316.24 102.10,316.34 102.36,316.43 102.61,316.53 102.87,316.63 103.13,316.72 103.39,316.82 103.65,316.91 103.90,317.00 104.16,317.09 104.42,317.18 104.68,317.27 104.93,317.35 105.19,317.44 105.45,317.52 105.71,317.61 105.97,317.69 106.22,317.77 106.48,317.85 106.74,317.93 107.00,318.00 107.26,318.08 107.51,318.15 107.77,318.23 108.03,318.30 108.29,318.37 108.54,318.44 108.80,318.51 109.06,318.57 109.32,318.64 109.58,318.70 109.83,318.76 110.09,318.83 110.35,318.89 110.61,318.95 110.87,319.00 111.12,319.06 111.38,319.12 111.64,319.17 111.90,319.23 112.16,319.28 112.41,319.33 112.67,319.38 112.93,319.43 113.19,319.48 113.44,319.52 113.70,319.57 113.96,319.61 114.22,319.66 114.48,319.70 114.73,319.74 114.99,319.78 115.25,319.82 115.51,319.86 115.77,319.90 116.02,319.93 116.28,319.97 116.54,320.00 116.80,320.04 117.05,320.07 117.31,320.10 117.57,320.13 117.83,320.16 118.09,320.19 118.34,320.22 118.60,320.25 118.86,320.28 119.12,320.30 119.38,320.33 119.63,320.35 119.89,320.38 120.15,320.40 120.41,320.42 120.66,320.45 120.92,320.47 121.18,320.49 121.44,320.51 121.70,320.53 121.95,320.55 122.21,320.57 122.47,320.58 122.73,320.60 122.99,320.62 123.24,320.63 123.50,320.65 123.76,320.66 124.02,320.68 124.28,320.69 124.53,320.71 124.79,320.72 125.05,320.73 125.31,320.74 125.56,320.76 125.82,320.77 126.08,320.78 126.34,320.79 126.60,320.80 126.85,320.81 127.11,320.82" fill="none" stroke="#9c7888" stroke-width="1.2" stroke-linejoin="round" />
<polyline points="76.98,308.47 77.33,255.85 77.68,308.47" fill="none" stroke="#8a5c6e" stroke-width="0.8" stroke-linejoin="round" />
<rect x="24.40" y="244.30" width="104.30" height="77.00" fill="none" stroke="#808080" stroke-width="1.45"/>
<line x1="23.00" y1="311.68" x2="24.40" y2="311.68" stroke="#555" stroke-width="0.9" />
<line x1="23.00" y1="292.43" x2="24.40" y2="292.43" stroke="#555" stroke-width="0.9" />
<line x1="23.00" y1="273.18" x2="24.40" y2="273.18" stroke="#555" stroke-width="0.9" />
<line x1="23.00" y1="253.93" x2="24.40" y2="253.93" stroke="#555" stroke-width="0.9" />
<line x1="22.40" y1="321.30" x2="24.40" y2="321.30" stroke="#555" stroke-width="1" />
<text x="21.20" y="323.40" font-size="7" text-anchor="end" fill="#111111" stroke="#111111" stroke-width="0.28" font-weight="normal" font-style="normal" >0.0</text>
<line x1="22.40" y1="302.05" x2="24.40" y2="302.05" stroke="#555" stroke-width="1" />
<text x="21.20" y="304.15" font-size="7" text-anchor="end" fill="#111111" stroke="#111111" stroke-width="0.28" font-weight="normal" font-style="normal" >0.3</text>
<line x1="22.40" y1="282.80" x2="24.40" y2="282.80" stroke="#555" stroke-width="1" />
<text x="21.20" y="284.90" font-size="7" text-anchor="end" fill="#111111" stroke="#111111" stroke-width="0.28" font-weight="normal" font-style="normal" >0.6</text>
<line x1="22.40" y1="263.55" x2="24.40" y2="263.55" stroke="#555" stroke-width="1" />
<text x="21.20" y="265.65" font-size="7" text-anchor="end" fill="#111111" stroke="#111111" stroke-width="0.28" font-weight="normal" font-style="normal" >0.9</text>
<line x1="22.40" y1="244.30" x2="24.40" y2="244.30" stroke="#555" stroke-width="1" />
<text x="21.20" y="246.40" font-size="7" text-anchor="end" fill="#111111" stroke="#111111" stroke-width="0.28" font-weight="normal" font-style="normal" >1.2</text>
<line x1="40.55" y1="321.30" x2="40.55" y2="322.70" stroke="#555" stroke-width="0.9" />
<line x1="71.65" y1="321.30" x2="71.65" y2="322.70" stroke="#555" stroke-width="0.9" />
<line x1="102.75" y1="321.30" x2="102.75" y2="322.70" stroke="#555" stroke-width="0.9" />
<line x1="25.00" y1="321.30" x2="25.00" y2="323.30" stroke="#555" stroke-width="1" />
<text x="25.00" y="328.90" font-size="7" text-anchor="middle" fill="#111111" stroke="#111111" stroke-width="0.28" font-weight="normal" font-style="normal" >1530</text>
<line x1="56.10" y1="321.30" x2="56.10" y2="323.30" stroke="#555" stroke-width="1" />
<text x="56.10" y="328.90" font-size="7" text-anchor="middle" fill="#111111" stroke="#111111" stroke-width="0.28" font-weight="normal" font-style="normal" >1533</text>
<line x1="87.20" y1="321.30" x2="87.20" y2="323.30" stroke="#555" stroke-width="1" />
<text x="87.20" y="328.90" font-size="7" text-anchor="middle" fill="#111111" stroke="#111111" stroke-width="0.28" font-weight="normal" font-style="normal" >1536</text>
<line x1="118.30" y1="321.30" x2="118.30" y2="323.30" stroke="#555" stroke-width="1" />
<text x="118.30" y="328.90" font-size="7" text-anchor="middle" fill="#111111" stroke="#111111" stroke-width="0.28" font-weight="normal" font-style="normal" >1539</text>
<text x="76.55" y="342.30" font-size="8.4" text-anchor="middle" fill="#111111" stroke="#111111" stroke-width="0.28" font-weight="normal" font-style="normal" >Wavelength (nm)</text>
<text x="113.20" y="253.80" font-size="10.3" text-anchor="start" fill="#111111" stroke="#111111" stroke-width="0.3" font-weight="bold" font-style="normal" >(f)</text>
<text transform="translate(7.5,283.3) rotate(-90)" font-size="8.2" text-anchor="middle" fill="#111111" stroke="#111111" stroke-width="0.28">Norm.I (a.u.)</text>
<line x1="78.60" y1="278.90" x2="87.80" y2="278.90" stroke="#3a4a5c" stroke-width="0.8" stroke-dasharray="1.3 0.9"/>
<polygon points="90.20,278.90 87.34,277.25 87.34,280.55" fill="#2a3a4c"/>
<text x="92.60" y="281.90" font-size="7.3" text-anchor="start" fill="#3a5068" stroke="#3a5068" stroke-width="0.28" font-weight="normal" font-style="normal" >1535 nm</text>
<text x="93.10" y="309.10" font-size="7.2" text-anchor="start" fill="#111111" stroke="#111111" stroke-width="0.28" font-weight="normal" font-style="normal" >ε = 0.252</text>
<polyline points="152.70,321.06 152.96,321.05 153.22,321.04 153.49,321.03 153.75,321.01 154.01,321.00 154.27,320.99 154.53,320.97 154.80,320.96 155.06,320.94 155.32,320.93 155.58,320.91 155.84,320.89 156.11,320.87 156.37,320.85 156.63,320.83 156.89,320.81 157.15,320.79 157.42,320.77 157.68,320.75 157.94,320.72 158.20,320.70 158.46,320.67 158.73,320.64 158.99,320.62 159.25,320.59 159.51,320.56 159.77,320.53 160.04,320.49 160.30,320.46 160.56,320.43 160.82,320.39 161.08,320.35 161.35,320.32 161.61,320.28 161.87,320.24 162.13,320.19 162.39,320.15 162.66,320.11 162.92,320.06 163.18,320.01 163.44,319.96 163.70,319.91 163.97,319.86 164.23,319.81 164.49,319.75 164.75,319.69 165.01,319.63 165.28,319.57 165.54,319.51 165.80,319.45 166.06,319.38 166.32,319.31 166.59,319.24 166.85,319.17 167.11,319.09 167.37,319.02 167.63,318.94 167.90,318.86 168.16,318.78 168.42,318.69 168.68,318.60 168.94,318.52 169.21,318.42 169.47,318.33 169.73,318.23 169.99,318.13 170.25,318.03 170.52,317.93 170.78,317.82 171.04,317.72 171.30,317.60 171.56,317.49 171.83,317.37 172.09,317.25 172.35,317.13 172.61,317.01 172.87,316.88 173.14,316.75 173.40,316.61 173.66,316.47 173.92,316.33 174.18,316.19 174.45,316.04 174.71,315.89 174.97,315.73 175.23,315.57 175.49,315.41 175.76,315.24 176.02,315.06 176.28,314.88 176.54,314.70 176.80,314.51 177.07,314.31 177.33,314.10 177.59,313.89 177.85,313.68 178.11,313.45 178.38,313.22 178.64,312.97 178.90,312.72 179.16,312.46 179.42,312.18 179.69,311.90 179.95,311.60 180.21,311.29 180.47,310.97 180.73,310.63 181.00,310.28 181.26,309.91 181.52,309.53 181.78,309.13 182.04,308.71 182.31,308.27 182.57,307.82 182.83,307.34 183.09,306.85 183.35,306.33 183.62,305.80 183.88,305.24 184.14,304.66 184.40,304.06 184.66,303.43 184.93,302.79 185.19,302.12 185.45,301.43 185.71,300.71 185.97,299.98 186.24,299.22 186.50,298.44 186.76,297.65 187.02,296.83 187.28,295.99 187.55,295.14 187.81,294.26 188.07,293.38 188.33,292.47 188.59,291.56 188.86,290.63 189.12,289.69 189.38,288.74 189.64,287.78 189.90,286.81 190.17,285.84 190.43,284.87 190.69,283.90 190.95,282.92 191.21,281.95 191.48,280.98 191.74,280.02 192.00,279.07 192.26,278.12 192.52,277.18 192.79,276.26 193.05,275.34 193.31,274.45 193.57,273.56 193.83,272.70 194.10,271.85 194.36,271.03 194.62,270.22 194.88,269.44 195.14,268.68 195.41,267.94 195.67,267.23 195.93,266.54 196.19,265.88 196.45,265.24 196.72,264.63 196.98,264.05 197.24,263.49 197.50,262.96 197.76,262.46 198.03,261.98 198.29,261.53 198.55,261.10 198.81,260.70 199.07,260.33 199.34,259.98 199.60,259.65 199.86,259.35 200.12,259.08 200.38,258.82 200.65,258.59 200.91,258.38 201.17,258.18 201.43,258.01 201.69,257.86 201.96,257.72 202.22,257.60 202.48,257.50 202.74,257.41 203.00,257.34 203.27,257.28 203.53,257.23 203.79,257.19 204.05,257.17 204.31,257.15 204.58,257.14 204.84,257.13 205.10,257.14 205.36,257.15 205.62,257.17 205.89,257.20 206.15,257.24 206.41,257.30 206.67,257.36 206.93,257.45 207.20,257.54 207.46,257.66 207.72,257.79 207.98,257.94 208.24,258.11 208.51,258.30 208.77,258.51 209.03,258.74 209.29,259.00 209.55,259.28 209.82,259.58 210.08,259.91 210.34,260.27 210.60,260.65 210.86,261.06 211.13,261.49 211.39,261.96 211.65,262.45 211.91,262.97 212.17,263.52 212.44,264.09 212.70,264.70 212.96,265.33 213.22,265.99 213.48,266.67 213.75,267.39 214.01,268.13 214.27,268.90 214.53,269.69 214.79,270.50 215.06,271.34 215.32,272.20 215.58,273.08 215.84,273.98 216.10,274.90 216.37,275.84 216.63,276.79 216.89,277.75 217.15,278.73 217.41,279.71 217.68,280.71 217.94,281.71 218.20,282.71 218.46,283.72 218.72,284.73 218.99,285.74 219.25,286.75 219.51,287.76 219.77,288.75 220.03,289.74 220.30,290.72 220.56,291.69 220.82,292.65 221.08,293.59 221.34,294.52 221.61,295.43 221.87,296.32 222.13,297.19 222.39,298.05 222.65,298.88 222.92,299.69 223.18,300.48 223.44,301.24 223.70,301.98 223.96,302.70 224.23,303.40 224.49,304.07 224.75,304.71 225.01,305.34 225.27,305.94 225.54,306.51 225.80,307.06 226.06,307.59 226.32,308.10 226.58,308.59 226.85,309.06 227.11,309.50 227.37,309.93 227.63,310.34 227.89,310.73 228.16,311.10 228.42,311.45 228.68,311.79 228.94,312.12 229.20,312.43 229.47,312.73 229.73,313.01 229.99,313.29 230.25,313.55 230.51,313.80 230.78,314.04 231.04,314.27 231.30,314.50 231.56,314.71 231.82,314.92 232.09,315.12 232.35,315.31 232.61,315.50 232.87,315.68 233.13,315.85 233.40,316.02 233.66,316.18 233.92,316.34 234.18,316.49 234.44,316.64 234.71,316.79 234.97,316.93 235.23,317.07 235.49,317.20 235.75,317.33 236.02,317.46 236.28,317.58 236.54,317.70 236.80,317.82 237.06,317.93 237.33,318.04 237.59,318.15 237.85,318.26 238.11,318.36 238.37,318.46 238.64,318.56 238.90,318.65 239.16,318.74 239.42,318.83 239.68,318.92 239.95,319.00 240.21,319.08 240.47,319.16 240.73,319.24 240.99,319.31 241.26,319.39 241.52,319.46 241.78,319.53 242.04,319.59 242.30,319.66 242.57,319.72 242.83,319.78 243.09,319.84 243.35,319.89 243.61,319.95 243.88,320.00 244.14,320.05 244.40,320.10 244.66,320.15 244.92,320.20 245.19,320.24 245.45,320.28 245.71,320.32 245.97,320.36 246.23,320.40 246.50,320.44 246.76,320.48 247.02,320.51 247.28,320.55 247.54,320.58 247.81,320.61 248.07,320.64 248.33,320.67 248.59,320.69 248.85,320.72 249.12,320.75 249.38,320.77 249.64,320.80 249.90,320.82 250.16,320.84 250.43,320.86 250.69,320.88 250.95,320.90 251.21,320.92 251.47,320.94 251.74,320.95 252.00,320.97 252.26,320.99 252.52,321.00 252.78,321.01 253.05,321.03 253.31,321.04 253.57,321.05 253.83,321.07 254.09,321.08 254.36,321.09 254.62,321.10 254.88,321.11 255.14,321.12 255.40,321.13 255.67,321.14 255.93,321.14 256.19,321.15 256.45,321.16 256.71,321.17 256.98,321.17 257.24,321.18 257.50,321.19" fill="none" stroke="#d8a0b0" stroke-width="1.0" stroke-linejoin="round" />
<polyline points="152.70,321.23 152.96,321.22 153.22,321.22 153.49,321.21 153.75,321.21 154.01,321.20 154.27,321.20 154.53,321.19 154.80,321.19 155.06,321.18 155.32,321.17 155.58,321.17 155.84,321.16 156.11,321.15 156.37,321.14 156.63,321.13 156.89,321.12 157.15,321.11 157.42,321.10 157.68,321.09 157.94,321.08 158.20,321.07 158.46,321.06 158.73,321.04 158.99,321.03 159.25,321.01 159.51,321.00 159.77,320.98 160.04,320.97 160.30,320.95 160.56,320.93 160.82,320.91 161.08,320.89 161.35,320.87 161.61,320.85 161.87,320.83 162.13,320.81 162.39,320.78 162.66,320.76 162.92,320.73 163.18,320.70 163.44,320.67 163.70,320.64 163.97,320.61 164.23,320.58 164.49,320.54 164.75,320.51 165.01,320.47 165.28,320.43 165.54,320.39 165.80,320.35 166.06,320.31 166.32,320.27 166.59,320.22 166.85,320.17 167.11,320.12 167.37,320.07 167.63,320.02 167.90,319.96 168.16,319.91 168.42,319.85 168.68,319.79 168.94,319.72 169.21,319.66 169.47,319.59 169.73,319.52 169.99,319.45 170.25,319.37 170.52,319.30 170.78,319.22 171.04,319.13 171.30,319.05 171.56,318.96 171.83,318.87 172.09,318.78 172.35,318.68 172.61,318.59 172.87,318.48 173.14,318.38 173.40,318.27 173.66,318.16 173.92,318.04 174.18,317.93 174.45,317.80 174.71,317.68 174.97,317.55 175.23,317.41 175.49,317.27 175.76,317.13 176.02,316.98 176.28,316.83 176.54,316.67 176.80,316.51 177.07,316.33 177.33,316.16 177.59,315.97 177.85,315.78 178.11,315.58 178.38,315.38 178.64,315.16 178.90,314.94 179.16,314.70 179.42,314.46 179.69,314.20 179.95,313.94 180.21,313.66 180.47,313.36 180.73,313.06 181.00,312.73 181.26,312.40 181.52,312.04 181.78,311.67 182.04,311.29 182.31,310.88 182.57,310.45 182.83,310.01 183.09,309.54 183.35,309.05 183.62,308.54 183.88,308.01 184.14,307.46 184.40,306.88 184.66,306.27 184.93,305.65 185.19,305.00 185.45,304.32 185.71,303.62 185.97,302.90 186.24,302.15 186.50,301.37 186.76,300.58 187.02,299.76 187.28,298.92 187.55,298.05 187.81,297.17 188.07,296.27 188.33,295.35 188.59,294.41 188.86,293.45 189.12,292.48 189.38,291.50 189.64,290.51 189.90,289.50 190.17,288.49 190.43,287.47 190.69,286.45 190.95,285.43 191.21,284.40 191.48,283.37 191.74,282.35 192.00,281.33 192.26,280.32 192.52,279.32 192.79,278.32 193.05,277.34 193.31,276.37 193.57,275.42 193.83,274.48 194.10,273.57 194.36,272.67 194.62,271.79 194.88,270.93 195.14,270.10 195.41,269.29 195.67,268.51 195.93,267.75 196.19,267.02 196.45,266.31 196.72,265.63 196.98,264.99 197.24,264.36 197.50,263.77 197.76,263.21 198.03,262.67 198.29,262.17 198.55,261.69 198.81,261.24 199.07,260.82 199.34,260.42 199.60,260.05 199.86,259.71 200.12,259.39 200.38,259.10 200.65,258.83 200.91,258.59 201.17,258.37 201.43,258.17 201.69,257.99 201.96,257.83 202.22,257.69 202.48,257.57 202.74,257.47 203.00,257.38 203.27,257.31 203.53,257.25 203.79,257.21 204.05,257.17 204.31,257.15 204.58,257.14 204.84,257.13 205.10,257.14 205.36,257.15 205.62,257.17 205.89,257.20 206.15,257.24 206.41,257.30 206.67,257.37 206.93,257.45 207.20,257.55 207.46,257.66 207.72,257.80 207.98,257.95 208.24,258.12 208.51,258.31 208.77,258.53 209.03,258.76 209.29,259.02 209.55,259.31 209.82,259.62 210.08,259.95 210.34,260.31 210.60,260.70 210.86,261.11 211.13,261.56 211.39,262.03 211.65,262.53 211.91,263.05 212.17,263.61 212.44,264.19 212.70,264.81 212.96,265.45 213.22,266.12 213.48,266.82 213.75,267.54 214.01,268.29 214.27,269.07 214.53,269.87 214.79,270.70 215.06,271.55 215.32,272.42 215.58,273.32 215.84,274.23 216.10,275.16 216.37,276.10 216.63,277.06 216.89,278.04 217.15,279.02 217.41,280.02 217.68,281.02 217.94,282.03 218.20,283.05 218.46,284.06 218.72,285.08 218.99,286.09 219.25,287.11 219.51,288.11 219.77,289.11 220.03,290.10 220.30,291.08 220.56,292.05 220.82,293.01 221.08,293.95 221.34,294.87 221.61,295.78 221.87,296.67 222.13,297.53 222.39,298.38 222.65,299.21 222.92,300.01 223.18,300.79 223.44,301.54 223.70,302.28 223.96,302.99 224.23,303.67 224.49,304.33 224.75,304.96 225.01,305.58 225.27,306.16 225.54,306.73 225.80,307.27 226.06,307.79 226.32,308.29 226.58,308.76 226.85,309.22 227.11,309.65 227.37,310.07 227.63,310.47 227.89,310.85 228.16,311.21 228.42,311.56 228.68,311.89 228.94,312.21 229.20,312.51 229.47,312.80 229.73,313.08 229.99,313.35 230.25,313.60 230.51,313.85 230.78,314.08 231.04,314.31 231.30,314.53 231.56,314.74 231.82,314.94 232.09,315.14 232.35,315.33 232.61,315.51 232.87,315.69 233.13,315.86 233.40,316.03 233.66,316.19 233.92,316.35 234.18,316.50 234.44,316.65 234.71,316.80 234.97,316.94 235.23,317.07 235.49,317.21 235.75,317.34 236.02,317.46 236.28,317.58 236.54,317.70 236.80,317.82 237.06,317.93 237.33,318.05 237.59,318.15 237.85,318.26 238.11,318.36 238.37,318.46 238.64,318.56 238.90,318.65 239.16,318.74 239.42,318.83 239.68,318.92 239.95,319.00 240.21,319.08 240.47,319.16 240.73,319.24 240.99,319.31 241.26,319.39 241.52,319.46 241.78,319.53 242.04,319.59 242.30,319.66 242.57,319.72 242.83,319.78 243.09,319.84 243.35,319.89 243.61,319.95 243.88,320.00 244.14,320.05 244.40,320.10 244.66,320.15 244.92,320.20 245.19,320.24 245.45,320.28 245.71,320.32 245.97,320.36 246.23,320.40 246.50,320.44 246.76,320.48 247.02,320.51 247.28,320.55 247.54,320.58 247.81,320.61 248.07,320.64 248.33,320.67 248.59,320.69 248.85,320.72 249.12,320.75 249.38,320.77 249.64,320.80 249.90,320.82 250.16,320.84 250.43,320.86 250.69,320.88 250.95,320.90 251.21,320.92 251.47,320.94 251.74,320.95 252.00,320.97 252.26,320.99 252.52,321.00 252.78,321.01 253.05,321.03 253.31,321.04 253.57,321.05 253.83,321.07 254.09,321.08 254.36,321.09 254.62,321.10 254.88,321.11 255.14,321.12 255.40,321.13 255.67,321.14 255.93,321.14 256.19,321.15 256.45,321.16 256.71,321.17 256.98,321.17 257.24,321.18 257.50,321.19" fill="none" stroke="#6e5a7e" stroke-width="1.0" stroke-linejoin="round" />
<rect x="152.00" y="244.30" width="104.70" height="77.00" fill="none" stroke="#808080" stroke-width="1.45"/>
<line x1="150.60" y1="311.68" x2="152.00" y2="311.68" stroke="#555" stroke-width="0.9" />
<line x1="150.60" y1="292.43" x2="152.00" y2="292.43" stroke="#555" stroke-width="0.9" />
<line x1="150.60" y1="273.18" x2="152.00" y2="273.18" stroke="#555" stroke-width="0.9" />
<line x1="150.60" y1="253.93" x2="152.00" y2="253.93" stroke="#555" stroke-width="0.9" />
<line x1="150.00" y1="321.30" x2="152.00" y2="321.30" stroke="#555" stroke-width="1" />
<text x="148.80" y="323.40" font-size="7" text-anchor="end" fill="#111111" stroke="#111111" stroke-width="0.28" font-weight="normal" font-style="normal" >0.0</text>
<line x1="150.00" y1="302.05" x2="152.00" y2="302.05" stroke="#555" stroke-width="1" />
<text x="148.80" y="304.15" font-size="7" text-anchor="end" fill="#111111" stroke="#111111" stroke-width="0.28" font-weight="normal" font-style="normal" >0.3</text>
<line x1="150.00" y1="282.80" x2="152.00" y2="282.80" stroke="#555" stroke-width="1" />
<text x="148.80" y="284.90" font-size="7" text-anchor="end" fill="#111111" stroke="#111111" stroke-width="0.28" font-weight="normal" font-style="normal" >0.6</text>
<line x1="150.00" y1="263.55" x2="152.00" y2="263.55" stroke="#555" stroke-width="1" />
<text x="148.80" y="265.65" font-size="7" text-anchor="end" fill="#111111" stroke="#111111" stroke-width="0.28" font-weight="normal" font-style="normal" >0.9</text>
<line x1="150.00" y1="244.30" x2="152.00" y2="244.30" stroke="#555" stroke-width="1" />
<text x="148.80" y="246.40" font-size="7" text-anchor="end" fill="#111111" stroke="#111111" stroke-width="0.28" font-weight="normal" font-style="normal" >1.2</text>
<line x1="165.80" y1="321.30" x2="165.80" y2="322.70" stroke="#555" stroke-width="0.9" />
<line x1="192.00" y1="321.30" x2="192.00" y2="322.70" stroke="#555" stroke-width="0.9" />
<line x1="218.20" y1="321.30" x2="218.20" y2="322.70" stroke="#555" stroke-width="0.9" />
<line x1="244.40" y1="321.30" x2="244.40" y2="322.70" stroke="#555" stroke-width="0.9" />
<line x1="152.70" y1="321.30" x2="152.70" y2="323.30" stroke="#555" stroke-width="1" />
<text x="152.70" y="328.90" font-size="7" text-anchor="middle" fill="#111111" stroke="#111111" stroke-width="0.28" font-weight="normal" font-style="normal" >1530</text>
<line x1="178.90" y1="321.30" x2="178.90" y2="323.30" stroke="#555" stroke-width="1" />
<text x="178.90" y="328.90" font-size="7" text-anchor="middle" fill="#111111" stroke="#111111" stroke-width="0.28" font-weight="normal" font-style="normal" >1535</text>
<line x1="205.10" y1="321.30" x2="205.10" y2="323.30" stroke="#555" stroke-width="1" />
<text x="205.10" y="328.90" font-size="7" text-anchor="middle" fill="#111111" stroke="#111111" stroke-width="0.28" font-weight="normal" font-style="normal" >1540</text>
<line x1="231.30" y1="321.30" x2="231.30" y2="323.30" stroke="#555" stroke-width="1" />
<text x="231.30" y="328.90" font-size="7" text-anchor="middle" fill="#111111" stroke="#111111" stroke-width="0.28" font-weight="normal" font-style="normal" >1545</text>
<line x1="257.50" y1="321.30" x2="257.50" y2="323.30" stroke="#555" stroke-width="1" />
<text x="257.50" y="328.90" font-size="7" text-anchor="middle" fill="#111111" stroke="#111111" stroke-width="0.28" font-weight="normal" font-style="normal" >1550</text>
<text x="204.35" y="342.30" font-size="8.4" text-anchor="middle" fill="#111111" stroke="#111111" stroke-width="0.28" font-weight="normal" font-style="normal" >Wavelength (nm)</text>
<text x="240.40" y="254.90" font-size="10.3" text-anchor="start" fill="#111111" stroke="#111111" stroke-width="0.3" font-weight="bold" font-style="normal" >(g)</text>
<line x1="192.50" y1="286.80" x2="217.00" y2="286.80" stroke="#2a5070" stroke-width="1.3" stroke-dasharray="4.2 3.5"/>
<polygon points="190.20,286.80 193.58,284.85 193.58,288.75" fill="#244660"/>
<polygon points="219.60,286.80 216.22,284.85 216.22,288.75" fill="#244660"/>
<text x="204.60" y="296.80" font-size="7.2" text-anchor="middle" fill="#33597a" stroke="#33597a" stroke-width="0.28" font-weight="normal" font-style="normal" >6 nm</text>
<text x="190.90" y="307.90" font-size="7.2" text-anchor="start" fill="#111111" stroke="#111111" stroke-width="0.28" font-weight="normal" font-style="normal" >ε = 0.329</text>
<polyline points="318.90,320.98 318.90,259.70 356.00,259.70 356.00,320.98" fill="none" stroke="#dcb4c0" stroke-width="0.6" stroke-linejoin="round" />
<polyline points="280.80,320.98 318.60,320.98 318.90,259.06 324.90,258.74 332.90,259.06 340.90,259.38 354.40,259.06 355.90,260.34 356.40,320.98 384.40,320.98" fill="none" stroke="#a88490" stroke-width="1.0" stroke-linejoin="round" />
<rect x="280.30" y="244.30" width="104.60" height="77.00" fill="none" stroke="#808080" stroke-width="1.45"/>
<line x1="278.90" y1="311.68" x2="280.30" y2="311.68" stroke="#555" stroke-width="0.9" />
<line x1="278.90" y1="292.43" x2="280.30" y2="292.43" stroke="#555" stroke-width="0.9" />
<line x1="278.90" y1="273.18" x2="280.30" y2="273.18" stroke="#555" stroke-width="0.9" />
<line x1="278.90" y1="253.93" x2="280.30" y2="253.93" stroke="#555" stroke-width="0.9" />
<line x1="278.30" y1="321.30" x2="280.30" y2="321.30" stroke="#555" stroke-width="1" />
<text x="277.10" y="323.40" font-size="7" text-anchor="end" fill="#111111" stroke="#111111" stroke-width="0.28" font-weight="normal" font-style="normal" >0.0</text>
<line x1="278.30" y1="302.05" x2="280.30" y2="302.05" stroke="#555" stroke-width="1" />
<text x="277.10" y="304.15" font-size="7" text-anchor="end" fill="#111111" stroke="#111111" stroke-width="0.28" font-weight="normal" font-style="normal" >0.3</text>
<line x1="278.30" y1="282.80" x2="280.30" y2="282.80" stroke="#555" stroke-width="1" />
<text x="277.10" y="284.90" font-size="7" text-anchor="end" fill="#111111" stroke="#111111" stroke-width="0.28" font-weight="normal" font-style="normal" >0.6</text>
<line x1="278.30" y1="263.55" x2="280.30" y2="263.55" stroke="#555" stroke-width="1" />
<text x="277.10" y="265.65" font-size="7" text-anchor="end" fill="#111111" stroke="#111111" stroke-width="0.28" font-weight="normal" font-style="normal" >0.9</text>
<line x1="278.30" y1="244.30" x2="280.30" y2="244.30" stroke="#555" stroke-width="1" />
<text x="277.10" y="246.40" font-size="7" text-anchor="end" fill="#111111" stroke="#111111" stroke-width="0.28" font-weight="normal" font-style="normal" >1.2</text>
<line x1="304.27" y1="321.30" x2="304.27" y2="322.70" stroke="#555" stroke-width="0.9" />
<line x1="332.80" y1="321.30" x2="332.80" y2="322.70" stroke="#555" stroke-width="0.9" />
<line x1="361.33" y1="321.30" x2="361.33" y2="322.70" stroke="#555" stroke-width="0.9" />
<line x1="290.00" y1="321.30" x2="290.00" y2="323.30" stroke="#555" stroke-width="1" />
<text x="290.00" y="328.90" font-size="7" text-anchor="middle" fill="#111111" stroke="#111111" stroke-width="0.28" font-weight="normal" font-style="normal" >1530</text>
<line x1="318.53" y1="321.30" x2="318.53" y2="323.30" stroke="#555" stroke-width="1" />
<text x="318.53" y="328.90" font-size="7" text-anchor="middle" fill="#111111" stroke="#111111" stroke-width="0.28" font-weight="normal" font-style="normal" >1533</text>
<line x1="347.07" y1="321.30" x2="347.07" y2="323.30" stroke="#555" stroke-width="1" />
<text x="347.07" y="328.90" font-size="7" text-anchor="middle" fill="#111111" stroke="#111111" stroke-width="0.28" font-weight="normal" font-style="normal" >1536</text>
<line x1="375.60" y1="321.30" x2="375.60" y2="323.30" stroke="#555" stroke-width="1" />
<text x="375.60" y="328.90" font-size="7" text-anchor="middle" fill="#111111" stroke="#111111" stroke-width="0.28" font-weight="normal" font-style="normal" >1539</text>
<text x="332.60" y="342.30" font-size="8.4" text-anchor="middle" fill="#111111" stroke="#111111" stroke-width="0.28" font-weight="normal" font-style="normal" >Wavelength (nm)</text>
<text x="368.40" y="254.70" font-size="10.3" text-anchor="start" fill="#111111" stroke="#111111" stroke-width="0.3" font-weight="bold" font-style="normal" >(h)</text>
<line x1="321.20" y1="287.40" x2="353.30" y2="287.40" stroke="#2a5070" stroke-width="1.3" stroke-dasharray="4.2 3.5"/>
<polygon points="318.90,287.40 322.28,285.45 322.28,289.35" fill="#244660"/>
<polygon points="355.90,287.40 352.52,285.45 352.52,289.35" fill="#244660"/>
<text x="337.20" y="297.50" font-size="7.2" text-anchor="middle" fill="#33597a" stroke="#33597a" stroke-width="0.28" font-weight="normal" font-style="normal" >4 nm</text>
<text x="322.60" y="307.90" font-size="7.2" text-anchor="start" fill="#111111" stroke="#111111" stroke-width="0.28" font-weight="normal" font-style="normal" >ε = 0.293</text>
<polyline points="407.20,320.93 408.70,320.95 410.20,320.94 411.70,320.73 413.20,320.80 414.70,320.91 416.20,321.01 417.70,320.78 419.20,320.67 420.70,320.82 422.20,321.04 423.70,321.03 425.20,321.01 426.70,320.98 428.20,321.03 429.70,321.02 431.20,320.79 432.70,320.70 434.20,320.97 435.70,320.67 437.20,320.86 438.70,320.73 440.20,320.69 441.70,320.68 443.20,321.03 444.70,320.93 446.20,320.81 447.70,320.68 449.20,321.01 450.70,320.93 452.20,320.72 453.70,321.00 455.20,320.89 456.70,320.91 458.20,320.78 459.70,320.69 461.20,320.98 462.70,320.76 464.20,320.76 465.70,320.72 467.20,320.83 468.70,320.69 470.20,320.90 471.70,320.88 473.20,320.96 474.70,320.74 476.20,320.86 477.70,320.94 479.20,320.98 480.70,320.77 482.20,320.81 483.70,320.77 485.20,320.89 486.70,320.86 488.20,320.98 489.70,320.77 491.20,321.03 492.70,320.86 494.20,320.75 495.70,320.78 497.20,321.01 498.70,320.95 500.20,320.72 501.70,320.80 503.20,320.71 504.70,320.71 506.20,320.87 507.70,320.70 509.20,320.76 510.70,320.91" fill="none" stroke="#9090a0" stroke-width="0.7" stroke-linejoin="round" />
<line x1="442.40" y1="255.85" x2="442.40" y2="321.30" stroke="#c8a4b8" stroke-width="1.9" />
<line x1="442.40" y1="255.85" x2="442.40" y2="282.80" stroke="#9a6a84" stroke-width="0.9" stroke-dasharray="1 1"/>
<line x1="442.40" y1="282.80" x2="442.40" y2="321.30" stroke="#46509a" stroke-width="1.0" stroke-dasharray="1 1"/>
<polyline points="476.70,321.30 477.20,318.09 477.70,321.30" fill="none" stroke="#8a7090" stroke-width="1.0" stroke-linejoin="round" />
<rect x="406.70" y="244.30" width="104.80" height="77.00" fill="none" stroke="#808080" stroke-width="1.45"/>
<line x1="405.30" y1="311.68" x2="406.70" y2="311.68" stroke="#555" stroke-width="0.9" />
<line x1="405.30" y1="292.43" x2="406.70" y2="292.43" stroke="#555" stroke-width="0.9" />
<line x1="405.30" y1="273.18" x2="406.70" y2="273.18" stroke="#555" stroke-width="0.9" />
<line x1="405.30" y1="253.93" x2="406.70" y2="253.93" stroke="#555" stroke-width="0.9" />
<line x1="404.70" y1="321.30" x2="406.70" y2="321.30" stroke="#555" stroke-width="1" />
<text x="403.50" y="323.40" font-size="7" text-anchor="end" fill="#111111" stroke="#111111" stroke-width="0.28" font-weight="normal" font-style="normal" >0.0</text>
<line x1="404.70" y1="302.05" x2="406.70" y2="302.05" stroke="#555" stroke-width="1" />
<text x="403.50" y="304.15" font-size="7" text-anchor="end" fill="#111111" stroke="#111111" stroke-width="0.28" font-weight="normal" font-style="normal" >0.3</text>
<line x1="404.70" y1="282.80" x2="406.70" y2="282.80" stroke="#555" stroke-width="1" />
<text x="403.50" y="284.90" font-size="7" text-anchor="end" fill="#111111" stroke="#111111" stroke-width="0.28" font-weight="normal" font-style="normal" >0.6</text>
<line x1="404.70" y1="263.55" x2="406.70" y2="263.55" stroke="#555" stroke-width="1" />
<text x="403.50" y="265.65" font-size="7" text-anchor="end" fill="#111111" stroke="#111111" stroke-width="0.28" font-weight="normal" font-style="normal" >0.9</text>
<line x1="404.70" y1="244.30" x2="406.70" y2="244.30" stroke="#555" stroke-width="1" />
<text x="403.50" y="246.40" font-size="7" text-anchor="end" fill="#111111" stroke="#111111" stroke-width="0.28" font-weight="normal" font-style="normal" >1.2</text>
<line x1="425.00" y1="321.30" x2="425.00" y2="322.70" stroke="#555" stroke-width="0.9" />
<line x1="459.80" y1="321.30" x2="459.80" y2="322.70" stroke="#555" stroke-width="0.9" />
<line x1="494.60" y1="321.30" x2="494.60" y2="322.70" stroke="#555" stroke-width="0.9" />
<line x1="407.60" y1="321.30" x2="407.60" y2="323.30" stroke="#555" stroke-width="1" />
<text x="407.60" y="328.90" font-size="7" text-anchor="middle" fill="#111111" stroke="#111111" stroke-width="0.28" font-weight="normal" font-style="normal" >1525</text>
<line x1="442.40" y1="321.30" x2="442.40" y2="323.30" stroke="#555" stroke-width="1" />
<text x="442.40" y="328.90" font-size="7" text-anchor="middle" fill="#111111" stroke="#111111" stroke-width="0.28" font-weight="normal" font-style="normal" >1530</text>
<line x1="477.20" y1="321.30" x2="477.20" y2="323.30" stroke="#555" stroke-width="1" />
<text x="477.20" y="328.90" font-size="7" text-anchor="middle" fill="#111111" stroke="#111111" stroke-width="0.28" font-weight="normal" font-style="normal" >1535</text>
<line x1="512.00" y1="321.30" x2="512.00" y2="323.30" stroke="#555" stroke-width="1" />
<text x="512.00" y="328.90" font-size="7" text-anchor="middle" fill="#111111" stroke="#111111" stroke-width="0.28" font-weight="normal" font-style="normal" >1540</text>
<text x="459.10" y="342.30" font-size="8.4" text-anchor="middle" fill="#111111" stroke="#111111" stroke-width="0.28" font-weight="normal" font-style="normal" >Wavelength (nm)</text>
<text x="499.00" y="255.60" font-size="10.3" text-anchor="start" fill="#111111" stroke="#111111" stroke-width="0.3" font-weight="bold" font-style="normal" >(i)</text>
<text x="413.70" y="253.80" font-size="7.4" text-anchor="start" fill="#b82533" stroke="#b82533" stroke-width="0.15" font-weight="bold" font-style="italic" >Dynamic range = 13dB</text>
<text x="426.50" y="272.60" font-size="7.2" text-anchor="start" fill="#c8313d" stroke="#c8313d" stroke-width="0.28" font-weight="normal" font-style="normal" >I=1</text>
<text x="448.90" y="307.40" font-size="7.2" text-anchor="start" fill="#111111" stroke="#111111" stroke-width="0.28" font-weight="normal" font-style="normal" >ε = 0.031</text>
<text x="478.50" y="316.70" font-size="7.2" text-anchor="start" fill="#c8313d" stroke="#c8313d" stroke-width="0.28" font-weight="normal" font-style="normal" >I=0.05</text>
</svg>
</body></html>
